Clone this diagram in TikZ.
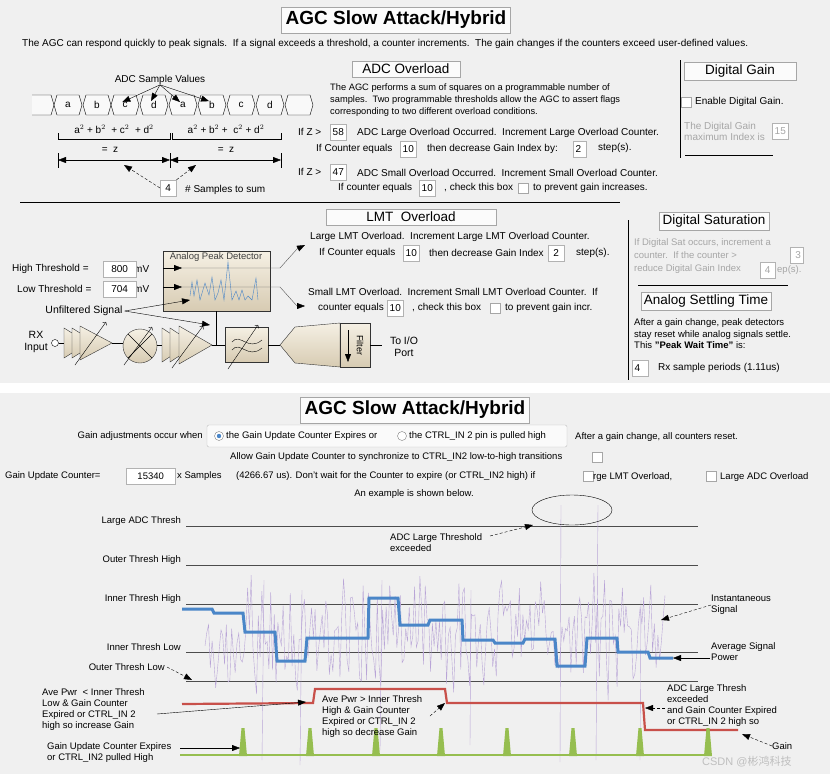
\documentclass[tikz,border=0pt]{standalone}
\usepackage{fontspec}
\setmainfont{Liberation Sans}
\newfontfamily\cjk{Noto Sans CJK SC}
\usetikzlibrary{arrows.meta,shapes.geometric}
\definecolor{bg}{RGB}{240,240,240}
\definecolor{avg}{RGB}{74,134,200}
\definecolor{redl}{RGB}{200,80,74}
\definecolor{grn}{RGB}{150,190,80}
\definecolor{noise}{RGB}{185,165,215}
\definecolor{bei1}{RGB}{245,240,228}
\definecolor{bei2}{RGB}{215,203,178}
\begin{document}
\begin{tikzpicture}[x=1pt,y=-1pt,font=\fontsize{10}{11}\selectfont,
  every node/.style={inner sep=0pt},
  t/.style={anchor=west},
  ttl/.style={draw=gray!70,fill=white!97!gray,font=\fontsize{13.5}{14}\selectfont,inner sep=3pt},
  big/.style={draw=gray!70,fill=white!97!gray,font=\bfseries\fontsize{19}{20}\selectfont,inner sep=4pt},
  fld/.style={draw=gray!60,fill=white,minimum height=16pt,anchor=west,inner sep=2.5pt},
  cb/.style={draw=gray!70,fill=white,minimum size=10pt,anchor=west},
  gr/.style={anchor=west,text=gray!70},
  arr/.style={-{Triangle[length=8pt,width=6pt]},thin},
  darr/.style={-{Triangle[length=8pt,width=6pt]},thin,densely dashed},
  th/.style={gray!70!black,thin},
  beige/.style={draw=black!80,top color=bei1,bottom color=bei2,thin}]
\useasboundingbox (0,0) rectangle (830,774);
\fill[bg] (0,0) rectangle (830,383);
\fill[white] (0,383) rectangle (830,393);
\fill[bg] (0,393) rectangle (830,774);
% ===== top title
\node[big] (t1) at (396,20) {AGC Slow Attack/Hybrid};
\node[t] (desc) at (22,44) {The AGC can respond quickly to peak signals.\ \ If a signal exceeds a threshold, a counter increments.\ \ The gain changes if the counters exceed user-defined values.};
\draw[black] (20,202) -- (620,202);
\draw (680,60) -- (680,158);
\draw (628,220) -- (628,380);
% ADC overload
\node[ttl,minimum width=108pt] (adco) at (406,69) {ADC Overload};
\node[t,align=left,font=\fontsize{9.3}{12}\selectfont] (adcd) at (330,100) {The AGC performs a sum of squares on a programmable number of\\samples.\ \ Two programmable thresholds allow the AGC to assert flags\\corresponding to two different overload conditions.};
\node[t] (z1) at (298,132) {If Z >};
\node[fld] (f58) at (330,132) {58};
\node[t] (l1) at (357,133) {ADC Large Overload Occurred.\ \ Increment Large Overload Counter.};
\node[t] (l2) at (316,149) {If Counter equals};
\node[fld] (f10a) at (400,149) {10};
\node[t] (l3) at (427,149) {then decrease Gain Index by:};
\node[fld] (f2a) at (573,149) {2\ \ };
\node[t] (l4) at (598,148) {step(s).};
\node[t] (z2) at (298,172) {If Z >};
\node[fld] (f47) at (330,172) {47};
\node[t] (s1) at (357,173) {ADC Small Overload Occurred.\ \ Increment Small Overload Counter.};
\node[t] (s2) at (338,188) {If counter equals};
\node[fld] (f10b) at (419,188) {10};
\node[t] (s3) at (444,188) {, check this box};
\node[cb] (cb1) at (518,188) {};
\node[t] (s4) at (533,188) {to prevent gain increases.};
% Digital gain
\node[ttl,minimum width=112pt] (dg) at (740,71) {Digital Gain};
\node[cb] (cb2) at (681,102) {};
\node[t] (edg) at (695,102) {Enable Digital Gain.};
\node[gr,align=left] (dgt) at (684,131) {The Digital Gain\\maximum Index is};
\node[fld,text=gray!70] (f15) at (772,131) {15};
\draw (685,155) -- (773,155);
% sample sequence
\foreach \c/\l [count=\i] in {40/,68/a,97/b,125/c,154/d,183/a,212/b,241/c,270/d,299/} {
  \draw[fill=white!95!gray] (\c-11,95) -- (\c+11,95) -- (\c+14,105) -- (\c+11,115) -- (\c-11,115) -- (\c-14,105) -- cycle;
  \node (cell\i) at (\c,105) {\l};
}
\fill[bg] (20,93) rectangle (32,117);
\node (asv) at (160,80) {ADC Sample Values};
\foreach \i in {4,5,6,7} \draw[arr] (asv.south) -- (cell\i.north west);
\node (sum1) at (114,129) {a$^2$ + b$^2$\ \ + c$^2$\ \ + d$^2$};
\node (sum2) at (226,129) {a$^2$ + b$^2$ + \ c$^2$ + d$^2$};
\draw (58,133) -- (58,139) -- (170,139) -- (170,133);
\draw (172,133) -- (172,139) -- (281,139) -- (281,133);
\node (eq1) at (110,150) {= \ z};
\node (eq2) at (226,150) {= \ z};
\draw (58,153) -- (58,168) (170,153) -- (170,168) (281,153) -- (281,168);
\coordinate (d1) at (58,160); \coordinate (d2) at (170,160); \coordinate (d3) at (281,160);
\draw[{Triangle[length=8pt,width=6pt]}-{Triangle[length=8pt,width=6pt]}] (d1) -- (d2);
\draw[{Triangle[length=8pt,width=6pt]}-{Triangle[length=8pt,width=6pt]}] (d2) -- (d3);
\node[fld] (f4) at (160,188) {\ 4\ \ };
\node[t] (nss) at (185,190) {\# Samples to sum};
\coordinate (p1) at (124,165); \coordinate (p2) at (196,165);
\draw[darr] (f4.west) -- (p1);
\draw[darr] (f4.north east) -- (p2);
% LMT overload
\node[ttl,minimum width=170pt] (lmt) at (411,217) {LMT\ \ Overload};
\node[t] (m1) at (310,237) {Large LMT Overload.\ \ Increment Large LMT Overload Counter.};
\node[t] (m2) at (319,253) {If Counter equals};
\node[fld] (f10c) at (403,253) {10};
\node[t] (m3) at (429,253) {then decrease Gain Index};
\node[fld] (f2b) at (548,253) {\ 2\ \ };
\node[t] (m4) at (576,253) {step(s).};
\node[t] (n1) at (308,292) {Small LMT Overload.\ \ Increment Small LMT Overload Counter.\ \ If};
\node[t] (n2) at (318,308) {counter equals};
\node[fld] (f10d) at (387,308) {10};
\node[t] (n3) at (412,308) {, check this box};
\node[cb] (cb3) at (490,308) {};
\node[t] (n4) at (505,308) {to prevent gain incr.};
% Digital saturation
\node[ttl,minimum width=110pt] (dsat) at (714,221) {Digital Saturation};
\node[gr,align=left,font=\fontsize{9.5}{13}\selectfont] (dst) at (634,256) {If Digital Sat occurs, increment a\\counter.\ \ If the counter >\\reduce Digital Gain Index};
\node[gr,font=\fontsize{9.5}{13}\selectfont] (eps) at (777,270) {ep(s).};
\node[fld,text=gray!70] (f3) at (790,255) {\ 3\ };
\node[fld,text=gray!70,minimum width=15pt] (f4b) at (760,270) {\hfill4};
\draw (638,285) -- (788,285);
\node[ttl,minimum width=130pt] (ast) at (706,301) {Analog Settling Time};
\node[t,align=left,font=\fontsize{9.5}{11.5}\selectfont] (astd) at (634,334) {After a gain change, peak detectors\\stay reset while analog signals settle.\\This \textbf{"Peak Wait Time"} is:};
\node[fld] (f4c) at (632,368) {4\ \ \ };
\node[t] (rx) at (658,368) {Rx sample periods (1.11us)};
% thresholds & peak detector
\node[t] (ht) at (12,269) {High Threshold =};
\node[t] (mv1) at (134,269) {mV};
\node[fld,minimum width=33pt] (f800) at (103,269) {800};
\node[t] (lt) at (17,289) {Low Threshold =};
\node[t] (mv2) at (134,289) {mV};
\node[fld,minimum width=33pt] (f704) at (103,289) {704};
\node[beige,minimum width=107pt,minimum height=60pt,anchor=north west] (apd) at (163,251) {};
\node[font=\fontsize{9.5}{10}\selectfont,anchor=north,text=black!75] (apdt) at (216,252) {Analog Peak Detector};
\draw[avg,thin] (190,296) -- (192,282) -- (194,296) -- (197,280) -- (200,300) -- (205,283) -- (209,295) -- (212,277) -- (215,300) -- (218,293) -- (221,280) -- (224,300) -- (228,262) -- (232,300) -- (236,291) -- (239,300) -- (242,290) -- (245,300) -- (248,296) -- (252,300) -- (256,278) -- (258,300);
\draw[th] (180,268) -- (280,268) -- (297,249);
\draw[th] (180,287) -- (280,287) -- (297,306);
\draw[arr] (163,268) -- (182,268);
\draw[arr] (163,287) -- (182,287);
\coordinate (q1) at (305,245); \coordinate (q2) at (305,306);
\draw[arr] (297,249) -- (q1);
\draw[arr] (297,306) -- (q2);
\node (uf) at (84,311) {\fontsize{10.5}{11}\selectfont Unfiltered Signal};
\coordinate (u1) at (190,300); \coordinate (u2) at (210,325);
\draw[arr] (uf.east) ++(2,0) -- (u1);
\draw[arr] (uf.east) ++(2,0) -- (u2);
% signal chain
\node[align=center,font=\fontsize{10.5}{12}\selectfont] (rxi) at (36,342) {RX\\Input};
\draw[fill=white] (55,343) circle (3.5);
\draw (58.5,343) -- (64,343);
\foreach \x in {64,72} \draw[beige] (\x,328) -- (\x+24,343) -- (\x,358) -- cycle;
\draw[beige] (80,326) -- (112,343) -- (80,360) -- cycle;
\draw[->] (75,365) -- (106,322);
\draw (112,343) -- (123,343);
\draw[beige] (140,346) circle (17);
\draw (128,334) -- (152,358) (128,358) -- (152,334);
\draw[->] (124,365) -- (152,327);
\draw (157,345) -- (162,345);
\foreach \x in {162,170} \draw[beige] (\x,328) -- (\x+26,345) -- (\x,362) -- cycle;
\draw[beige] (179,326) -- (212,345) -- (179,364) -- cycle;
\draw[->] (172,368) -- (203,326);
\draw (212,345) -- (225,345);
\draw (216,311) -- (216,345);
\draw[beige] (225,327) rectangle (268,362);
\draw (232,342) .. controls (240,332) and (248,352) .. (262,340);
\draw (232,350) .. controls (240,340) and (248,360) .. (262,348);
\draw[->] (228,369) -- (258,325);
\draw (268,345) -- (280,345);
\draw[beige] (280,345) -- (295,327) -- (340,323) -- (340,367) -- (295,363) -- cycle;
\draw[beige] (340,323) rectangle (370,367);
\draw[-{Triangle[length=8pt,width=6pt]}] (348,330) -- (348,362);
\node[rotate=-90,font=\fontsize{9}{9}\selectfont] (flt) at (360,345) {Filter};
\draw (370,345) -- (382,345);
\node[align=center,font=\fontsize{10.5}{12}\selectfont] (iop) at (404,347) {To I/O\\Port};
% ===== bottom panel
\begin{scope}[font=\fontsize{9.5}{11}\selectfont]
\node[big] (t2) at (415,410) {AGC Slow Attack/Hybrid};
\node[anchor=east] (gao) at (203,436) {Gain adjustments occur when};
\draw[gray!50,fill=gray!4,rounded corners=2pt] (207,425) rectangle (567,447);
\draw[fill=white,draw=gray] (219,436) circle (4.5); \fill[avg] (219,436) circle (2.2);
\node[t] (r1) at (226,436) {the Gain Update Counter Expires or};
\draw[fill=white,draw=gray] (402,436) circle (4.5);
\node[t] (r2) at (409,436) {the CTRL\_IN 2 pin is pulled high};
\node[t] (agc) at (575,437) {After a gain change, all counters reset.};
\node[t] (sync) at (230,457) {Allow Gain Update Counter to synchronize to CTRL\_IN2 low-to-high transitions};
\node[cb] (cb4) at (592,457) {};
\node[t] (guc) at (5,476) {Gain Update Counter=};
\node[fld,minimum width=49pt] (f15340) at (126,476) {15340};
\node[t] (xs) at (177,476) {x Samples};
\node[t] (dw) at (236,476) {(4266.67 us). Don't wait for the Counter to expire (or CTRL\_IN2 high) if};
\node[cb] (cb5) at (583,476) {};
\node[t] (rl) at (593,477) {rge LMT Overload,};
\node[cb] (cb6) at (706,476) {};
\node[t] (la) at (720,477) {Large ADC Overload};
\node (ex) at (414,494) {An example is shown below.};
% chart
\foreach \y/\n/\l in {526/la/Large ADC Thresh,565/oh/Outer Thresh High,604/ih/Inner Thresh High,652/il/Inner Thresh Low} {
  \draw[gray!60!black] (186,\y) -- (698,\y);
  \node[anchor=east] (lab\n) at (181,\y-5) {\l};
}
\draw[gray!60!black] (186,681) -- (698,681);
\node[anchor=east] (labol) at (165,667) {Outer Thresh Low};
\coordinate (olp) at (192,680);
\draw[darr] (labol.east) ++(2,0) -- (olp);
% noise
\pgfmathsetseed{11}
\draw[noise,thin] plot[domain=205:665,samples=260] (\x,{635+45*rand+25*rand});
\draw[noise,thin] (262,760) -- (264,580) (300,765) -- (302,590) (380,750) -- (382,580) (560,762) -- (561,505) (596,760) -- (598,505) (640,760) -- (641,600) (470,745) -- (471,590);
% blue
\draw[avg,line width=3pt] (182,609) -- (212,609) -- (214,613) -- (243,613) -- (245,632) -- (275,632) -- (277,661) -- (305,661) -- (307,638) -- (368,638) -- (369,598) -- (398,598) -- (400,625) -- (428,625) -- (430,620) -- (462,620) -- (463,640) -- (493,640) -- (495,643) -- (523,643) -- (525,639) -- (555,639) -- (557,666) -- (585,666) -- (587,638) -- (617,638) -- (618,652) -- (648,652) -- (650,658) -- (673,658);
% red
\draw[redl,line width=2.2pt] (182,704) -- (313,703) -- (315,689) -- (445,689) -- (447,703) -- (643,703) -- (645,730) -- (738,730);
% green
\draw[grn,line width=2pt] (180,755) -- (705,755);
\foreach \x in {243,310,376,441,507,573,640,708}
  \fill[grn] (\x-4,756) -- (\x-1.5,728) -- (\x+1.5,728) -- (\x+4,756) -- cycle;
% annotations
\draw (572,510) ellipse (40 and 15);
\node[t,align=left] (alt) at (390,543) {ADC Large Threshold\\exceeded};
\coordinate (elp) at (533,525);
\draw[darr] (490,536) -- (elp);
\node[t,align=left] (ins) at (711,605) {Instantaneous\\Signal};
\coordinate (insp) at (661,620);
\draw[darr] (ins.west) -- (insp);
\node[t,align=left] (avl) at (711,652) {Average Signal\\Power};
\coordinate (avgp) at (673,658);
\draw[arr] (710,658) -- (avgp);
\node[t,align=left] (alte) at (667,706) {ADC Large Thresh\\exceeded\\and Gain Counter Expired\\or CTRL\_IN 2 high so};
\coordinate (altp) at (645,708);
\draw[darr] (665,708) -- (altp);
\node[t] (gain) at (772,746) {Gain};
\coordinate (gp) at (742,734);
\draw[darr] (gain.west) -- (gp);
\node[t,align=left] (inc) at (42,710) {Ave Pwr\ \ < Inner Thresh\\Low \& Gain Counter\\Expired or CTRL\_IN 2\\high so increase Gain};
\coordinate (incp) at (306,702);
\draw[arr] (157,714) -- (incp);
\node[t,align=left] (dec) at (322,717) {Ave Pwr > Inner Thresh\\High \& Gain Counter\\Expired or CTRL\_IN 2\\high so decrease Gain};
\coordinate (decp) at (445,703);
\draw[darr] (430,716) -- (decp);
\node[t,align=left] (gue) at (47,753) {Gain Update Counter Expires\\or CTRL\_IN2 pulled High};
\coordinate (guep) at (240,748);
\draw[arr] (180,748) -- (guep);
\end{scope}
\node[t,text=gray!50,font=\fontsize{11}{11}\selectfont] (wm) at (702,762) {CSDN @{\cjk 彬鸿科技}};
\end{tikzpicture}
\end{document}
